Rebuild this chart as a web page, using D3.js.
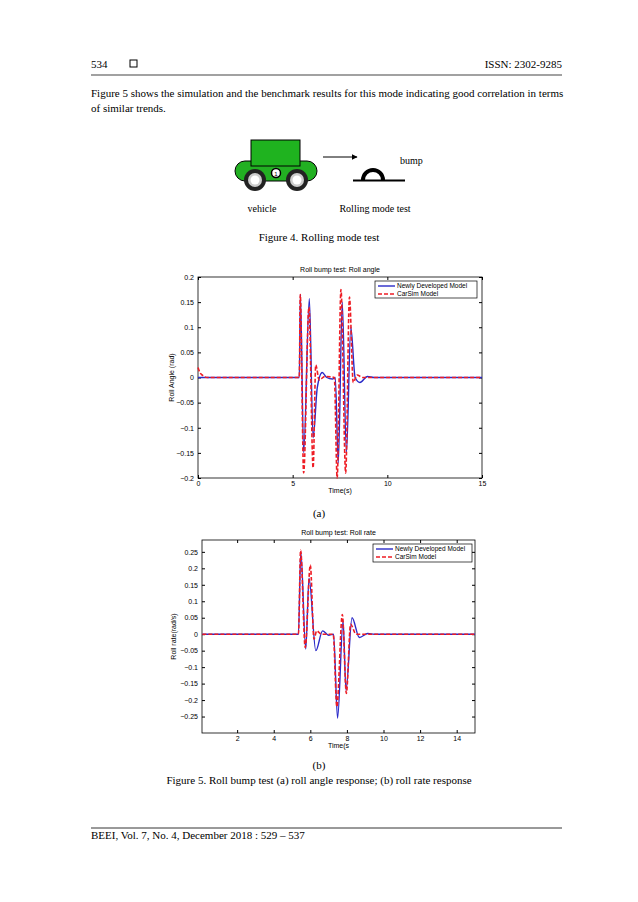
<!DOCTYPE html>
<html><head><meta charset="utf-8">
<script src="https://cdn.jsdelivr.net/npm/d3@7"></script>
<style>body{margin:0;background:#fff}svg{display:block}</style></head>
<body><svg id="pg" width="638" height="902"></svg>
<script>
// Chart (a) roll angle
const angleTicksY = [0.2,0.15,0.1,0.05,0,-0.05,-0.1,-0.15,-0.2];
const angleTicksX = [0,5,10,15];
const angleBlue = [[0,0],[5.35,0],[5.41,0.165],[5.58,-0.15],[5.88,0.157],[6.08,-0.12],[6.3,-0.02],[6.56,0.01],[6.8,0],[7.1,-0.003],[7.25,0],[7.41,-0.17],[7.62,0.15],[7.84,-0.15],[8.07,0.1],[8.3,0],[8.55,-0.01],[8.95,0.002],[9.3,0],[15,0]];
const angleRed = [[0,0.02],[0.1,0.01],[0.25,0.004],[0.5,0],[5.35,0],[5.4,0.165],[5.58,-0.19],[5.86,0.14],[6.08,-0.18],[6.22,0.025],[6.4,-0.005],[6.7,0.002],[7.2,0],[7.35,-0.2],[7.55,0.175],[7.8,-0.19],[8.0,0.16],[8.2,-0.01],[8.4,0.005],[8.7,0],[15,0]];
// Chart (b) roll rate
const rateTicksY = [0.25,0.2,0.15,0.1,0.05,0,-0.05,-0.1,-0.15,-0.2,-0.25];
const rateTicksX = [2,4,6,8,10,12,14];
const rateBlue = [[0.1,0],[5.35,0],[5.48,0.25],[5.75,-0.045],[5.93,0.17],[6.3,-0.05],[6.67,0.01],[7.0,-0.003],[7.27,0],[7.49,-0.255],[7.79,0.04],[7.95,-0.17],[8.28,0.05],[8.68,-0.01],[9.14,0.002],[9.5,0],[15,0]];
const rateRed = [[0.1,0],[5.35,0],[5.47,0.255],[5.72,-0.04],[6.0,0.21],[6.2,-0.015],[6.35,0.01],[6.6,0],[7.25,0],[7.45,-0.22],[7.75,0.06],[7.97,-0.18],[8.2,0.03],[8.5,0],[15,0]];
const seriesNames = ["Newly Developed Model","CarSim Model"];

const svg = d3.select("#pg");
const serif = "Liberation Serif, Times New Roman, serif";
const sans = "Liberation Sans, Arial, sans-serif";
function txt(x,y,s,size,anchor,fam){svg.append("text").attr("x",x).attr("y",y).attr("font-family",fam||serif).attr("font-size",size).attr("text-anchor",anchor||"start").text(s);}

// page header/footer
txt(91,68,"534",11); 
svg.append("rect").attr("x",130).attr("y",60).attr("width",7).attr("height",7).attr("fill","none").attr("stroke","#000").attr("stroke-width",1);
txt(562,68,"ISSN: 2302-9285",11,"end");
svg.append("line").attr("x1",91).attr("x2",562).attr("y1",75).attr("y2",75).attr("stroke","#444").attr("stroke-width",1.2);
txt(91,97,"Figure 5 shows the simulation and the benchmark results for this mode indicating good correlation in terms",11);
txt(91,112,"of similar trends.",11);
svg.append("line").attr("x1",91).attr("x2",562).attr("y1",828).attr("y2",828).attr("stroke","#000").attr("stroke-width",0.8);
txt(91,839,"BEEI, Vol. 7, No. 4, December 2018 :  529 – 537",11);

// Figure 4 illustration
svg.append("rect").attr("x",235).attr("y",161).attr("width",82).attr("height",20).attr("rx",10).attr("fill","#22b022").attr("stroke","#000").attr("stroke-width",1);
svg.append("rect").attr("x",251).attr("y",140).attr("width",49).attr("height",26).attr("fill","#1fb31f").attr("stroke","#000").attr("stroke-width",1);
[255,297].forEach(cx=>{
  svg.append("circle").attr("cx",cx).attr("cy",180).attr("r",11).attr("fill","#222");
  svg.append("circle").attr("cx",cx).attr("cy",180).attr("r",7).attr("fill","#ccc");
  svg.append("circle").attr("cx",cx).attr("cy",180).attr("r",4.5).attr("fill","#fff");
});
svg.append("circle").attr("cx",276).attr("cy",173).attr("r",4.5).attr("fill","#fff").attr("stroke","#000").attr("stroke-width",1.5);
txt(276,175.5,"1",6,"middle",sans);
svg.append("defs").append("marker").attr("id","ah").attr("viewBox","0 0 10 10").attr("refX",9).attr("refY",5).attr("markerWidth",6).attr("markerHeight",6).attr("orient","auto").append("path").attr("d","M0,0L10,5L0,10z");
svg.append("line").attr("x1",323).attr("x2",357).attr("y1",157).attr("y2",157).attr("stroke","#000").attr("stroke-width",1).attr("marker-end","url(#ah)");
svg.append("line").attr("x1",353).attr("x2",405).attr("y1",180.5).attr("y2",180.5).attr("stroke","#000").attr("stroke-width",2);
svg.append("path").attr("d","M363,180 A10,10 0 0,1 383,180").attr("fill","none").attr("stroke","#000").attr("stroke-width",4);
txt(400,164,"bump",10);
txt(262,212,"vehicle",10,"middle");
txt(375,212,"Rolling mode test",10,"middle");
txt(319,241,"Figure 4. Rolling mode test",11,"middle");

function chart(o){
  const x=d3.scaleLinear().domain(o.xd).range([o.l,o.r]);
  const y=d3.scaleLinear().domain(o.yd).range([o.b,o.t]);
  const g=svg.append("g");
  g.append("rect").attr("x",o.l).attr("y",o.t).attr("width",o.r-o.l).attr("height",o.b-o.t).attr("fill","#fff");
  const ax=(a)=>a.attr("font-family",sans).attr("font-size",7).call(s=>s.select(".domain").remove()).call(s=>s.selectAll("line").attr("stroke","#000"));
  g.append("g").attr("transform",`translate(0,${o.b})`).call(d3.axisBottom(x).tickValues(o.xt).tickSize(-3).tickPadding(3).tickFormat(d3.format(""))).call(ax);
  g.append("g").attr("transform",`translate(0,${o.t})`).call(d3.axisTop(x).tickValues(o.xt).tickSize(-3).tickFormat("")).call(ax);
  g.append("g").attr("transform",`translate(${o.l},0)`).call(d3.axisLeft(y).tickValues(o.yt).tickSize(-3).tickPadding(4).tickFormat(d=>d===0?"0":d3.format("")(d).replace("-","\u2212"))).call(ax);
  g.append("g").attr("transform",`translate(${o.r},0)`).call(d3.axisRight(y).tickValues(o.yt).tickSize(-3).tickFormat("")).call(ax);
  g.append("rect").attr("x",o.l).attr("y",o.t).attr("width",o.r-o.l).attr("height",o.b-o.t).attr("fill","none").attr("stroke","#000").attr("stroke-width",0.8);
  const line=d3.line().x(d=>x(d[0])).y(d=>y(d[1])).curve(d3.curveMonotoneX);
  g.append("path").attr("d",line(o.blue)).attr("fill","none").attr("stroke","#2a2ac8").attr("stroke-width",1.4);
  g.append("path").attr("d",line(o.red)).attr("fill","none").attr("stroke","#ee1c24").attr("stroke-width",1.6).attr("stroke-dasharray","4,2");
  const L=o.leg;
  g.append("rect").attr("x",L[0]).attr("y",L[1]).attr("width",L[2]).attr("height",L[3]).attr("fill","#fff").attr("stroke","#000").attr("stroke-width",0.7);
  [["#2a2ac8",null],["#ee1c24","4,2"]].forEach((c,i)=>{
    const yy=L[1]+5+i*8;
    g.append("line").attr("x1",L[0]+3).attr("x2",L[0]+20).attr("y1",yy).attr("y2",yy).attr("stroke",c[0]).attr("stroke-width",1.4).attr("stroke-dasharray",c[1]);
    g.append("text").attr("x",L[0]+22).attr("y",yy+2.3).attr("font-family",sans).attr("font-size",6.5).text(seriesNames[i]);
  });
  txt((o.l+o.r)/2,o.t-5,o.title,7,"middle",sans);
  txt((o.l+o.r)/2,o.b+15,o.xl,7,"middle",sans);
  svg.append("text").attr("transform",`translate(${o.yx},${(o.t+o.b)/2}) rotate(-90)`).attr("text-anchor","middle").attr("font-family",sans).attr("font-size",7).text(o.yl);
}
chart({xd:[0,15],yd:[-0.2,0.2],l:198,r:482,t:277,b:478,xt:angleTicksX,yt:angleTicksY,blue:angleBlue,red:angleRed,leg:[375,281,102,17],title:"Roll bump test: Roll angle",xl:"Time(s)",yl:"Roll Angle (rad)",yx:174});
chart({xd:[0.08,15],yd:[-0.3,0.286],l:202,r:475,t:540,b:733,xt:rateTicksX,yt:rateTicksY,blue:rateBlue,red:rateRed,leg:[373,544,99,18],title:"Roll bump test: Roll rate",xl:"Time(s",yl:"Roll rate(rad/s)",yx:176});
txt(319,517,"(a)",11,"middle");
txt(319,769,"(b)",11,"middle");
txt(319,784,"Figure 5. Roll bump test (a) roll angle response; (b) roll rate response",11,"middle");
</script></body></html>
